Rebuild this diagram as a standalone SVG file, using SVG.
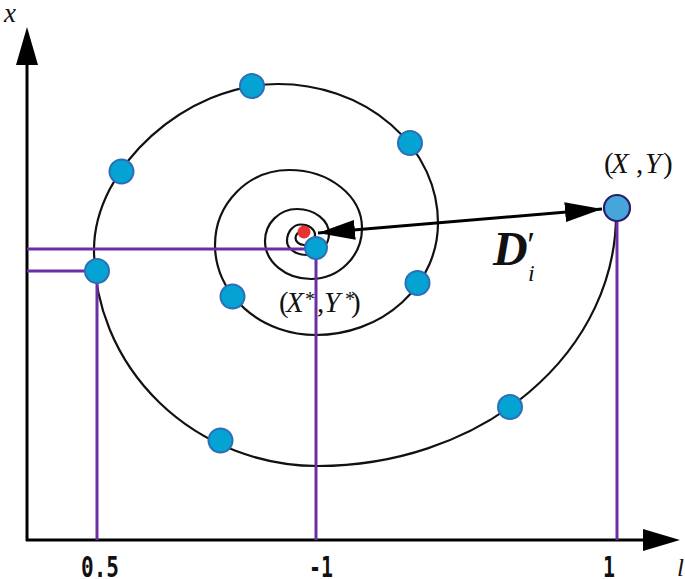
<svg xmlns="http://www.w3.org/2000/svg" width="685" height="579" viewBox="0 0 685 579">
<style>
.ax{stroke:#000;stroke-width:3;fill:none}
.sp{stroke:#111;stroke-width:2.2;fill:none}
.pl{stroke:#6a2fa3;stroke-width:3;fill:none}
.dot{fill:#05a3d4;stroke:#2b6fb6;stroke-width:2}
.serif{font-family:"Liberation Serif","DejaVu Serif",serif;fill:#111}
.it{font-style:italic}
.tick{font-family:"DejaVu Sans Mono","Liberation Mono",monospace;font-weight:bold;font-size:28px;fill:#111}
</style>
<defs>
<marker id="ah" viewBox="0 0 37 20" refX="37" refY="10" markerWidth="37" markerHeight="20" markerUnits="userSpaceOnUse" orient="auto-start-reverse">
<path d="M0,0 L37,10 L0,20 Z" fill="#000"/>
</marker>
</defs>
<rect width="685" height="579" fill="#fff"/>
<g id="axes">
<line class="ax" x1="27" y1="541" x2="27" y2="60"/>
<path d="M27,27 L16,65 L38,65 Z" fill="#000"/>
<line class="ax" x1="26" y1="540" x2="648" y2="540"/>
<path d="M680,540 L643,529 L643,551 Z" fill="#000"/>
<text class="serif it" x="4" y="22" font-size="27">x</text>
<text class="serif it" x="677" y="576" font-size="25">l</text>
<text class="tick" x="81" y="577" textLength="38" lengthAdjust="spacingAndGlyphs">0.5</text>
<text class="tick" x="309" y="577" textLength="24" lengthAdjust="spacingAndGlyphs">-1</text>
<text class="tick" x="603" y="577" textLength="12" lengthAdjust="spacingAndGlyphs">1</text>
</g>
<g id="spiral">
<path class="sp" d="M616,215 A298,251 0 0 1 318,466 A224,216 0 0 1 94,250 C94,167 186,84 278,84 A160,139 0 0 1 438,223 A122,112 0 0 1 316,335 A101,90 0 0 1 215,245 A74,75 0 0 1 289,170 A73,58 0 0 1 362,228 A51,51 0 0 1 311,279 A46,38 0 0 1 265,241 A32,32 0 0 1 297,209 A32,25 0 0 1 329,234 A22,21 0 0 1 307,255 A20,14 0 0 1 287,241 A14,16.5 0 0 1 301,224.5 A14,10.5 0 0 1 315,235 A11,10 0 0 1 304,245 A8.5,7 0 0 1 295.5,238 A6.5,6.5 0 0 1 302,231.5"/>
</g>
<g id="guides">
<polyline class="pl" points="27,249 316,249 316,540"/>
<polyline class="pl" points="27,271 97,271 97,540"/>
<line class="pl" x1="617" y1="208" x2="617" y2="540"/>
</g>
<g id="connectors">
<line x1="318" y1="233" x2="602" y2="209" stroke="#000" stroke-width="3" marker-start="url(#ah)" marker-end="url(#ah)"/>
</g>
<g id="node-optimum">
<circle cx="304" cy="232" r="6.5" fill="#e8322f"/>
</g>
<g id="node-xstar">
<circle class="dot" cx="316" cy="248" r="11"/>
<text class="serif" font-size="29"><tspan x="279" y="312">(</tspan><tspan class="it" x="286" y="312">X</tspan><tspan x="305" y="306" font-size="20">*</tspan><tspan x="317" y="312">,</tspan><tspan class="it" x="324" y="312">Y</tspan><tspan x="345" y="306" font-size="20">*</tspan><tspan x="351" y="312">)</tspan></text>
</g>
<g id="node-xy">
<circle cx="617" cy="208" r="13" fill="#47a6d9" stroke="#2a1f6b" stroke-width="2.2"/>
<text class="serif" font-size="29"><tspan x="604" y="173">(</tspan><tspan class="it" x="611" y="173">X</tspan><tspan x="636" y="173">,</tspan><tspan class="it" x="645" y="173">Y</tspan><tspan x="663" y="173">)</tspan></text>
</g>
<g id="label-d">
<text class="serif it" x="493" y="265" font-size="48" font-weight="bold">D</text>
<text class="serif it" x="525" y="257" font-size="36">′</text>
<text class="serif it" x="528" y="281" font-size="24">i</text>
</g>
<g id="node-p1"><circle class="dot" cx="252" cy="86" r="12" fill="#45a2d6"/></g>
<g id="node-p2"><circle class="dot" cx="410" cy="143" r="12"/></g>
<g id="node-p3"><circle class="dot" cx="121.5" cy="171.5" r="12"/></g>
<g id="node-p4"><circle class="dot" cx="97" cy="271" r="12"/></g>
<g id="node-p5"><circle class="dot" cx="232.5" cy="296.5" r="12"/></g>
<g id="node-p6"><circle class="dot" cx="417.5" cy="283" r="12"/></g>
<g id="node-p7"><circle class="dot" cx="220.5" cy="440.5" r="12"/></g>
<g id="node-p8"><circle class="dot" cx="510" cy="407" r="12"/></g>
</svg>
